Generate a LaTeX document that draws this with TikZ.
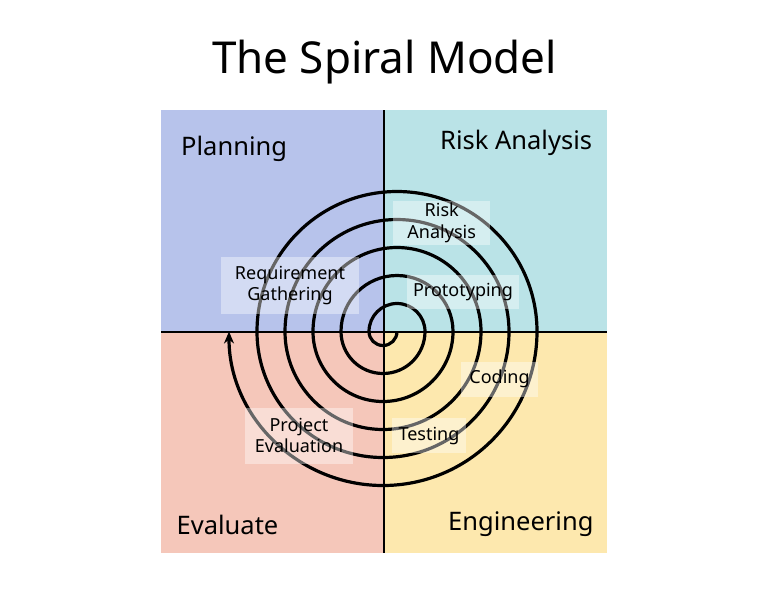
\documentclass[tikz,border=0pt]{standalone}
\usepackage{fontspec}
\setmainfont{Noto Sans}
\usetikzlibrary{arrows.meta}
\definecolor{qplan}{RGB}{183,195,235}
\definecolor{qrisk}{RGB}{186,227,231}
\definecolor{qeval}{RGB}{245,199,186}
\definecolor{qeng}{RGB}{253,232,174}
\begin{document}
\begin{tikzpicture}[x=1pt,y=1pt,
  lbl/.style={font=\fontsize{18}{21.5}\selectfont, align=center, fill=white,
    fill opacity=0.4, text opacity=1, inner sep=0pt},
  quad/.style={font=\fontsize{25.5}{30}\selectfont, anchor=base west, inner sep=0pt},
  spiral/.style={line width=3.2pt, line join=round},
  axis/.style={line width=2pt}]
\useasboundingbox (0,0) rectangle (768,-614);
\fill[white] (0,0) rectangle (768,-614);
% quadrants
\fill[qplan] (161,-110) rectangle (383.5,-331.5);
\fill[qrisk] (383.5,-110) rectangle (607,-331.5);
\fill[qeval] (161,-331.5) rectangle (383.5,-553);
\fill[qeng] (383.5,-331.5) rectangle (607,-553);
% axes
\coordinate (vt) at (383.5,-110);
\coordinate (vb) at (383.5,-553);
\coordinate (hl) at (161,-331.5);
\coordinate (hr) at (607,-331.5);
\draw[axis] (vt) -- (vb);
\draw[axis] (hl) -- (hr);
% title
\node[font=\fontsize{44}{50}\selectfont, anchor=base, inner sep=0pt] (title) at (384.5,-73.3) {The Spiral Model};
% quadrant labels
\node[quad] (plan) at (181,-155) {Planning};
\node[quad] (risk) at (440,-149.3) {Risk Analysis};
\node[quad] (eval) at (176.5,-534) {Evaluate};
\node[quad] (eng) at (448,-530) {Engineering};
% spiral
\coordinate (s0) at (397,-331.5);
\draw[spiral, -{Stealth[length=12pt,width=10pt]}] (s0)
  arc[start angle=0,end angle=-180,radius=14]
  arc[start angle=180,end angle=0,radius=28]
  arc[start angle=0,end angle=-180,radius=42]
  arc[start angle=180,end angle=0,radius=56]
  arc[start angle=0,end angle=-180,radius=70]
  arc[start angle=180,end angle=0,radius=84]
  arc[start angle=0,end angle=-180,radius=98]
  arc[start angle=180,end angle=0,radius=112]
  arc[start angle=0,end angle=-180,radius=126]
  arc[start angle=180,end angle=0,radius=140]
  arc[start angle=0,end angle=-180,radius=154];
% phase labels
\node[lbl, minimum width=97pt, minimum height=44pt] (lrisk) at (441.7,-222.8) {Risk\\Analysis};
\node[lbl, minimum width=138pt, minimum height=57pt] (lreq) at (290,-285.3) {Requirement\\Gathering};
\node[lbl, minimum width=112pt, minimum height=34pt] (lproto) at (463,-292) {Prototyping};
\node[lbl, minimum width=77pt, minimum height=35pt] (lcode) at (499.5,-379.2) {Coding};
\node[lbl, minimum width=74pt, minimum height=35pt] (ltest) at (429,-435.8) {Testing};
\node[lbl, minimum width=108pt, minimum height=56pt] (lproj) at (299,-435.5) {Project\\Evaluation};
\end{tikzpicture}
\end{document}
